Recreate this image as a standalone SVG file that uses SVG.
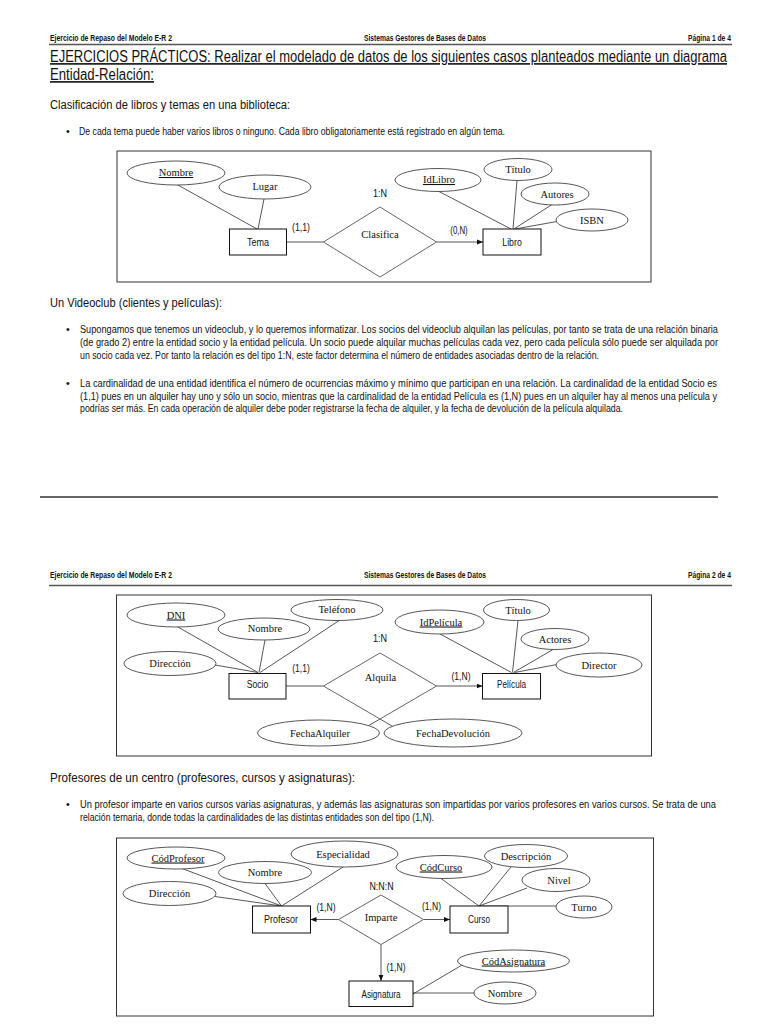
<svg xmlns="http://www.w3.org/2000/svg" width="768" height="1024" viewBox="0 0 768 1024">
<defs>
<style>
.sans{font-family:"Liberation Sans",Arial,sans-serif;fill:#111}
.hdr{font-size:8.5px;font-weight:bold}
.title{font-size:16px;text-decoration:underline}
.h2{font-size:13.5px}
.body{font-size:10.6px}
.lab{font-size:10.5px;text-anchor:middle}
.serif{font-family:"Liberation Serif","Times New Roman",serif;font-size:10.5px;fill:#111;text-anchor:middle}
.u{text-decoration:underline}
.frame{fill:none;stroke:#333;stroke-width:1}
.attr{fill:#fff;stroke:#444;stroke-width:0.9}
.ent{fill:#fff;stroke:#111;stroke-width:1}
.rel{fill:#fff;stroke:#555;stroke-width:0.9}
.conn line{stroke:#444;stroke-width:0.9}
.rule{stroke:#555;stroke-width:1.5}
</style>
<marker id="arr" viewBox="0 0 10 10" refX="10" refY="5" markerWidth="6" markerHeight="6" markerUnits="userSpaceOnUse" orient="auto"><path d="M0,1 L10,5 L0,9 z" fill="#111"/></marker>
</defs>
<rect width="768" height="1024" fill="#fff"/>

<!-- Page 1 header -->
<g id="header1">
<text class="sans hdr" transform="translate(50 40.5) scale(.82 1)" textLength="148.8" lengthAdjust="spacingAndGlyphs">Ejercicio de Repaso del Modelo E-R 2</text>
<text class="sans hdr" transform="translate(364 40.5) scale(.82 1)" textLength="148.8" lengthAdjust="spacingAndGlyphs">Sistemas Gestores de Bases de Datos</text>
<text class="sans hdr" transform="translate(688 40.5) scale(.82 1)" textLength="52.4" lengthAdjust="spacingAndGlyphs">Página 1 de 4</text>
<line class="rule" x1="49" y1="44.5" x2="732" y2="44.5"/>
</g>

<g id="texts1">
<text class="sans title" transform="translate(50 62) scale(.82 1)" textLength="825.6" lengthAdjust="spacingAndGlyphs">EJERCICIOS PRÁCTICOS: Realizar el modelado de datos de los siguientes casos planteados mediante un diagrama</text>
<text class="sans title" transform="translate(50 80) scale(.82 1)" textLength="126.8" lengthAdjust="spacingAndGlyphs">Entidad-Relación:</text>
<text class="sans h2" transform="translate(50 108.5) scale(.82 1)" textLength="292.7" lengthAdjust="spacingAndGlyphs">Clasificación de libros y temas en una biblioteca:</text>
<text class="sans body" x="66" y="134.5">•</text>
<text class="sans body" transform="translate(79 134.5) scale(.82 1)" textLength="519.5" lengthAdjust="spacingAndGlyphs">De cada tema puede haber varios libros o ninguno. Cada libro obligatoriamente está registrado en algún tema.</text>
</g>

<!-- Diagram 1 -->
<rect id="frame1" class="frame" x="117" y="151" width="534" height="131"/>
<g id="conn1" class="conn">
<line x1="177" y1="184.5" x2="257" y2="229"/>
<line x1="264" y1="199" x2="258" y2="229"/>
<line x1="286.5" y1="242" x2="323.5" y2="242"/>
<line x1="436.5" y1="242" x2="483" y2="242" marker-end="url(#arr)"/>
<line x1="439" y1="191.5" x2="511" y2="229"/>
<line x1="517" y1="180.5" x2="513" y2="229"/>
<line x1="552" y1="204.5" x2="514" y2="229"/>
<line x1="557" y1="221.5" x2="515" y2="229"/>
</g>
<g id="tema-nombre"><ellipse class="attr" cx="176" cy="173" rx="49" ry="12"/><text class="serif u" x="176" y="176">Nombre</text></g>
<g id="tema-lugar"><ellipse class="attr" cx="265" cy="187" rx="46" ry="12"/><text class="serif" x="265" y="190">Lugar</text></g>
<g id="tema"><rect class="ent" x="229.5" y="229" width="57" height="26"/><text class="sans lab" transform="translate(258 245.5) scale(.82 1)" textLength="26.8" lengthAdjust="spacingAndGlyphs">Tema</text></g>
<g id="clasifica"><polygon class="rel" points="323.5,242 380,207 436.5,242 380,277"/><text class="serif" x="380" y="237.5">Clasifica</text></g>
<g id="libro"><rect class="ent" x="483" y="229" width="58" height="26"/><text class="sans lab" transform="translate(512 245.5) scale(.82 1)" textLength="23.8" lengthAdjust="spacingAndGlyphs">Libro</text></g>
<g id="libro-idlibro"><ellipse class="attr" cx="438" cy="180" rx="43" ry="11.5"/><text class="serif u" x="439" y="183">IdLibro</text></g>
<g id="libro-titulo"><ellipse class="attr" cx="518" cy="169.5" rx="34" ry="11"/><text class="serif" x="518" y="172.5">Título</text></g>
<g id="libro-autores"><ellipse class="attr" cx="555" cy="194" rx="34" ry="11"/><text class="serif" x="557" y="197.5">Autores</text></g>
<g id="libro-isbn"><ellipse class="attr" cx="592" cy="220" rx="36" ry="11"/><text class="serif" x="592" y="224">ISBN</text></g>
<g id="labels1">
<text class="sans lab" transform="translate(380 197) scale(.82 1)" textLength="17.1" lengthAdjust="spacingAndGlyphs">1:N</text>
<text class="sans lab" transform="translate(301 230.5) scale(.82 1)" textLength="22" lengthAdjust="spacingAndGlyphs">(1,1)</text>
<text class="sans lab" transform="translate(459 234) scale(.82 1)" textLength="21.3" lengthAdjust="spacingAndGlyphs">(0,N)</text>
</g>

<g id="texts2">
<text class="sans h2" transform="translate(50 306.5) scale(.82 1)" textLength="209.8" lengthAdjust="spacingAndGlyphs">Un Videoclub (clientes y películas):</text>
<text class="sans body" x="66" y="333">•</text>
<text class="sans body" transform="translate(80 333) scale(.82 1)" textLength="778" lengthAdjust="spacingAndGlyphs">Supongamos que tenemos un videoclub, y lo queremos informatizar. Los socios del videoclub alquilan las películas, por tanto se trata de una relación binaria</text>
<text class="sans body" transform="translate(80 346) scale(.82 1)" textLength="778" lengthAdjust="spacingAndGlyphs">(de grado 2) entre la entidad socio y la entidad película. Un socio puede alquilar muchas películas cada vez, pero cada película sólo puede ser alquilada por</text>
<text class="sans body" transform="translate(80 359) scale(.82 1)" textLength="633" lengthAdjust="spacingAndGlyphs">un socio cada vez. Por tanto la relación es del tipo 1:N, este factor determina el número de entidades asociadas dentro de la relación.</text>
<text class="sans body" x="66" y="386.5">•</text>
<text class="sans body" transform="translate(80 386.5) scale(.82 1)" textLength="776.8" lengthAdjust="spacingAndGlyphs">La cardinalidad de una entidad identifica el número de ocurrencias máximo y mínimo que participan en una relación. La cardinalidad de la entidad Socio es</text>
<text class="sans body" transform="translate(80 399.5) scale(.82 1)" textLength="776.8" lengthAdjust="spacingAndGlyphs">(1,1) pues en un alquiler hay uno y sólo un socio, mientras que la cardinalidad de la entidad Película es (1,N) pues en un alquiler hay al menos una película y</text>
<text class="sans body" transform="translate(80 412) scale(.82 1)" textLength="662.2" lengthAdjust="spacingAndGlyphs">podrías ser más. En cada operación de alquiler debe poder registrarse la fecha de alquiler, y la fecha de devolución de la película alquilada.</text>
</g>

<line id="separator" x1="40" y1="497" x2="718" y2="497" stroke="#666" stroke-width="2"/>

<!-- Page 2 header -->
<g id="header2">
<text class="sans hdr" transform="translate(50 578) scale(.82 1)" textLength="148.8" lengthAdjust="spacingAndGlyphs">Ejercicio de Repaso del Modelo E-R 2</text>
<text class="sans hdr" transform="translate(364 578) scale(.82 1)" textLength="148.8" lengthAdjust="spacingAndGlyphs">Sistemas Gestores de Bases de Datos</text>
<text class="sans hdr" transform="translate(688 578) scale(.82 1)" textLength="52.4" lengthAdjust="spacingAndGlyphs">Página 2 de 4</text>
<line class="rule" x1="49" y1="585.5" x2="732" y2="585.5"/>
</g>

<!-- Diagram 2 -->
<rect id="frame2" class="frame" x="116.5" y="595" width="535" height="161"/>
<g id="conn2" class="conn">
<line x1="177" y1="626.5" x2="258" y2="672.5"/>
<line x1="265" y1="640" x2="259" y2="672.5"/>
<line x1="340" y1="620" x2="260" y2="672.5"/>
<line x1="215" y1="665" x2="258" y2="672.5"/>
<line x1="286" y1="686" x2="323.5" y2="686"/>
<line x1="436.5" y1="686" x2="482.5" y2="686" marker-end="url(#arr)"/>
<line x1="440" y1="634" x2="511.5" y2="672.5"/>
<line x1="518" y1="620.5" x2="512.5" y2="672.5"/>
<line x1="553" y1="649.5" x2="513.5" y2="672.5"/>
<line x1="557" y1="664.5" x2="514.5" y2="672.5"/>
<line x1="380" y1="719" x2="368.6" y2="725.6"/>
<line x1="380" y1="719" x2="392.5" y2="726.3"/>
</g>
<g id="socio-dni"><ellipse class="attr" cx="176" cy="615" rx="49" ry="12"/><text class="serif u" x="176" y="618.5">DNI</text></g>
<g id="socio-nombre"><ellipse class="attr" cx="264" cy="629" rx="46" ry="11"/><text class="serif" x="265" y="632">Nombre</text></g>
<g id="socio-telefono"><ellipse class="attr" cx="337" cy="610" rx="46" ry="10.5"/><text class="serif" x="337" y="613">Teléfono</text></g>
<g id="socio-direccion"><ellipse class="attr" cx="170" cy="663.5" rx="46" ry="12"/><text class="serif" x="170" y="667">Dirección</text></g>
<g id="socio"><rect class="ent" x="229" y="673.5" width="57" height="25.5"/><text class="sans lab" transform="translate(257.5 688) scale(.82 1)" textLength="26.2" lengthAdjust="spacingAndGlyphs">Socio</text></g>
<g id="alquila"><polygon class="rel" points="323.5,686 380,653 436.5,686 380,719"/><text class="serif" x="380.5" y="681">Alquila</text></g>
<g id="pelicula"><rect class="ent" x="482.5" y="673.5" width="58" height="25.5"/><text class="sans lab" transform="translate(511.5 688) scale(.82 1)" textLength="35.4" lengthAdjust="spacingAndGlyphs">Película</text></g>
<g id="pelicula-id"><ellipse class="attr" cx="439.5" cy="622" rx="44.5" ry="12"/><text class="serif u" x="441" y="625.5">IdPelícula</text></g>
<g id="pelicula-titulo"><ellipse class="attr" cx="516.5" cy="610" rx="33" ry="10.5"/><text class="serif" x="518" y="613.5">Título</text></g>
<g id="pelicula-actores"><ellipse class="attr" cx="555" cy="639" rx="34" ry="10.5"/><text class="serif" x="555" y="642.5">Actores</text></g>
<g id="pelicula-director"><ellipse class="attr" cx="599" cy="665" rx="43" ry="12"/><text class="serif" x="599" y="668.5">Director</text></g>
<g id="alquila-fechaalquiler"><ellipse class="attr" cx="318.5" cy="733" rx="61" ry="13"/><text class="serif" x="320" y="736.5">FechaAlquiler</text></g>
<g id="alquila-fechadevolucion"><ellipse class="attr" cx="453" cy="733" rx="69" ry="14"/><text class="serif" x="453" y="736.5">FechaDevolución</text></g>
<g id="labels2">
<text class="sans lab" transform="translate(380 642) scale(.82 1)" textLength="17.1" lengthAdjust="spacingAndGlyphs">1:N</text>
<text class="sans lab" transform="translate(301 672) scale(.82 1)" textLength="21.3" lengthAdjust="spacingAndGlyphs">(1,1)</text>
<text class="sans lab" transform="translate(461 679.5) scale(.82 1)" textLength="23.2" lengthAdjust="spacingAndGlyphs">(1,N)</text>
</g>

<g id="texts3">
<text class="sans h2" transform="translate(50 781.5) scale(.82 1)" textLength="372" lengthAdjust="spacingAndGlyphs">Profesores de un centro (profesores, cursos y asignaturas):</text>
<text class="sans body" x="66" y="807.5">•</text>
<text class="sans body" transform="translate(80 807.5) scale(.82 1)" textLength="775.6" lengthAdjust="spacingAndGlyphs">Un profesor imparte en varios cursos varias asignaturas, y además las asignaturas son impartidas por varios profesores en varios cursos. Se trata de una</text>
<text class="sans body" transform="translate(80 820.5) scale(.82 1)" textLength="431.7" lengthAdjust="spacingAndGlyphs">relación ternaria, donde todas la cardinalidades de las distintas entidades son del tipo (1,N).</text>
</g>

<!-- Diagram 3 -->
<rect id="frame3" class="frame" x="116.5" y="838" width="537" height="178"/>
<g id="conn3" class="conn">
<line x1="182" y1="868.5" x2="281.5" y2="906"/>
<line x1="265" y1="883.5" x2="281.5" y2="906"/>
<line x1="343" y1="867" x2="281.5" y2="906"/>
<line x1="215" y1="896.5" x2="281.5" y2="906"/>
<line x1="338.5" y1="919.5" x2="310.5" y2="919.5" marker-end="url(#arr)"/>
<line x1="423.5" y1="919.5" x2="450" y2="919.5" marker-end="url(#arr)"/>
<line x1="381" y1="944.5" x2="381" y2="981" marker-end="url(#arr)"/>
<line x1="441" y1="878.5" x2="479" y2="906"/>
<line x1="511" y1="867" x2="479" y2="906"/>
<line x1="527" y1="888" x2="479" y2="906"/>
<line x1="479" y1="906" x2="556" y2="906"/>
<line x1="413" y1="994" x2="462" y2="965"/>
<line x1="413" y1="993" x2="474" y2="993"/>
</g>
<g id="prof-codprofesor"><ellipse class="attr" cx="176" cy="858" rx="49" ry="11"/><text class="serif u" x="178" y="861.5">CódProfesor</text></g>
<g id="prof-nombre"><ellipse class="attr" cx="265" cy="872.5" rx="46.5" ry="11"/><text class="serif" x="265" y="876">Nombre</text></g>
<g id="prof-especialidad"><ellipse class="attr" cx="344.5" cy="854" rx="53.5" ry="13"/><text class="serif" x="343" y="857.5">Especialidad</text></g>
<g id="prof-direccion"><ellipse class="attr" cx="169.5" cy="893.5" rx="46.5" ry="12"/><text class="serif" x="169.5" y="897">Dirección</text></g>
<g id="profesor"><rect class="ent" x="252.5" y="906" width="58" height="27"/><text class="sans lab" transform="translate(281 923) scale(.82 1)" textLength="41.5" lengthAdjust="spacingAndGlyphs">Profesor</text></g>
<g id="imparte"><polygon class="rel" points="338.5,919.5 381,895 423.5,919.5 381,944.5"/><text class="serif" x="381" y="920.5">Imparte</text></g>
<g id="curso"><rect class="ent" x="450" y="906" width="58" height="27"/><text class="sans lab" transform="translate(479 923) scale(.82 1)" textLength="26.8" lengthAdjust="spacingAndGlyphs">Curso</text></g>
<g id="curso-codcurso"><ellipse class="attr" cx="444" cy="867" rx="48" ry="11.5"/><text class="serif u" x="441" y="870.5">CódCurso</text></g>
<g id="curso-descripcion"><ellipse class="attr" cx="526" cy="856" rx="41.5" ry="11.5"/><text class="serif" x="526" y="859.5">Descripción</text></g>
<g id="curso-nivel"><ellipse class="attr" cx="556" cy="880" rx="34" ry="11.5"/><text class="serif" x="559" y="883.5">Nivel</text></g>
<g id="curso-turno"><ellipse class="attr" cx="584" cy="907" rx="28" ry="11"/><text class="serif" x="584" y="910.5">Turno</text></g>
<g id="asignatura"><rect class="ent" x="349" y="981" width="64" height="25.5"/><text class="sans lab" transform="translate(381 997.5) scale(.82 1)" textLength="47.6" lengthAdjust="spacingAndGlyphs">Asignatura</text></g>
<g id="asig-codasignatura"><ellipse class="attr" cx="513.5" cy="961" rx="56" ry="11"/><text class="serif u" x="513.5" y="964.5">CódAsignatura</text></g>
<g id="asig-nombre"><ellipse class="attr" cx="505" cy="993" rx="31" ry="11"/><text class="serif" x="505" y="996.5">Nombre</text></g>
<g id="labels3">
<text class="sans lab" transform="translate(381.5 890) scale(.82 1)" textLength="29.3" lengthAdjust="spacingAndGlyphs">N:N:N</text>
<text class="sans lab" transform="translate(326 910.5) scale(.82 1)" textLength="23.2" lengthAdjust="spacingAndGlyphs">(1,N)</text>
<text class="sans lab" transform="translate(431.5 910) scale(.82 1)" textLength="23.2" lengthAdjust="spacingAndGlyphs">(1,N)</text>
<text class="sans lab" transform="translate(396 970.5) scale(.82 1)" textLength="23.2" lengthAdjust="spacingAndGlyphs">(1,N)</text>
</g>
</svg>
